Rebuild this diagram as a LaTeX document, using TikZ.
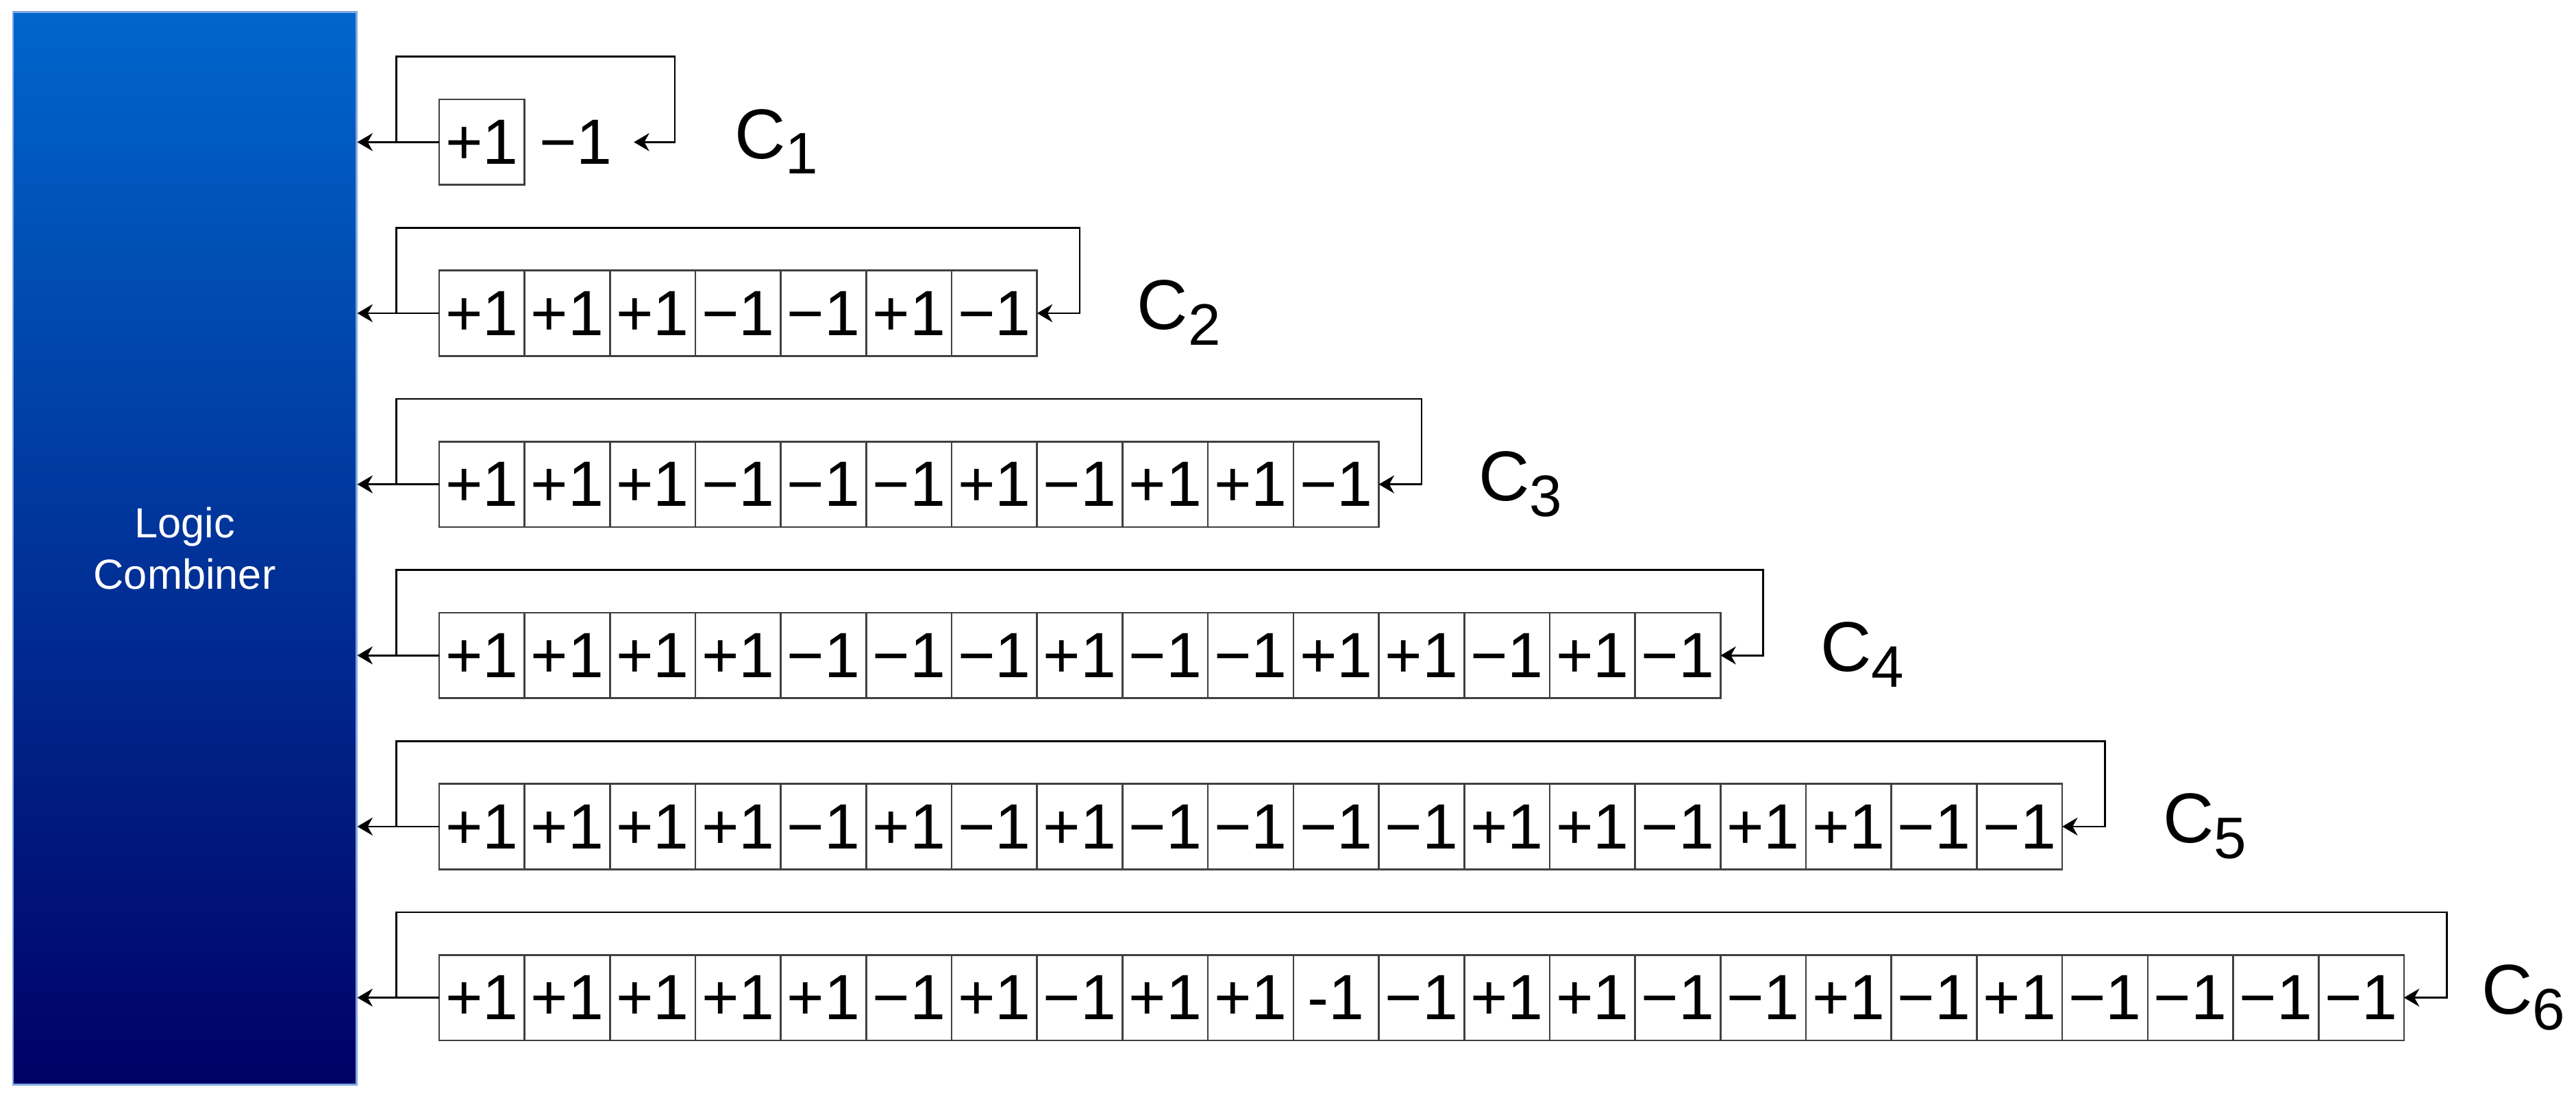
\documentclass[tikz,border=0pt]{standalone}
\usepackage{fontspec}
\setmainfont{Liberation Sans}
\usetikzlibrary{positioning, calc, arrows.meta}

\definecolor{combtop}{RGB}{0,102,204}
\definecolor{combbot}{RGB}{0,0,102}
\definecolor{combedge}{RGB}{130,170,225}

% label C_n with a large subscript
\newcommand{\codelabel}[1]{{\fontsize{23.5}{24}\selectfont C\raisebox{-5.2pt}{\fontsize{19.5}{20}\selectfont #1}}}
% one row of chips: row number, y, chip values
\newcommand{\coderow}[3]{%
  \foreach \bit [count=\k] in {#3} {
    \node[cell] (r#1c\k) at ({4.64+\k}, #2) {\bit};
  }}

\begin{document}
\begin{tikzpicture}[>={Stealth[length=1.8mm,width=2.1mm]}, line width=0.6pt,
    cell/.style={draw=black!75, minimum width=1cm, minimum height=1cm,
      inner sep=0pt, outer sep=0pt, font=\fontsize{21.3}{22}\selectfont},
    combiner/.style={draw=combedge, top color=combtop, bottom color=combbot,
      minimum width=4.02cm, minimum height=12.55cm, text=white, align=center,
      font=\fontsize{14}{17.2}\selectfont},
    codename/.style={anchor=base west, inner sep=0pt}]

  \useasboundingbox (0,0) rectangle (30.154,-12.846);

  \node[combiner] (lc) at (2.162,-6.417) {Logic\\Combiner};

  % C1: only the first chip is boxed
  \node[cell] (r1c1) at (5.64,-1.663) {+1};
  \node[cell, draw=none] (r1c2) at (6.74,-1.663) {−1};
  \coordinate (j1) at ($(r1c1.west)+(-0.5,0)$);
  \coordinate (t1) at ($(r1c2.east)+(0.66,1)$);
  \coordinate (e1) at ($(r1c2.east)+(0.18,0)$);
  \draw[->] (r1c1.west) -- (r1c1.west -| lc.east);
  \draw[->] (j1) |- (t1) |- (e1);
  \node[codename] (c1) at ($(t1)+(0.69,-1.19)$) {\codelabel{1}};

  \coderow{2}{-3.665}{+1,+1,+1,−1,−1,+1,−1}
  \coderow{3}{-5.667}{+1,+1,+1,−1,−1,−1,+1,−1,+1,+1,−1}
  \coderow{4}{-7.669}{+1,+1,+1,+1,−1,−1,−1,+1,−1,−1,+1,+1,−1,+1,−1}
  \coderow{5}{-9.671}{+1,+1,+1,+1,−1,+1,−1,+1,−1,−1,−1,−1,+1,+1,−1,+1,+1,−1,−1}
  \coderow{6}{-11.673}{+1,+1,+1,+1,+1,−1,+1,−1,+1,+1,-1,−1,+1,+1,−1,−1,+1,−1,+1,−1,−1,−1,−1}

  \foreach \row/\last/\gap in {2/7/0.66, 3/11/0.66, 4/15/0.66, 5/19/0.67, 6/23/0.40} {
    \coordinate (j\row) at ($(r\row c1.west)+(-0.5,0)$);
    \coordinate (t\row) at ($(r\row c\last.east)+(0.5,1)$);
    \draw[->] (r\row c1.west) -- (r\row c1.west -| lc.east);
    \draw[->] (j\row) |- (t\row) |- (r\row c\last.east);
    \node[codename] (c\row) at ($(t\row)+(\gap,-1.19)$) {\codelabel{\row}};
  }
\end{tikzpicture}
\end{document}
